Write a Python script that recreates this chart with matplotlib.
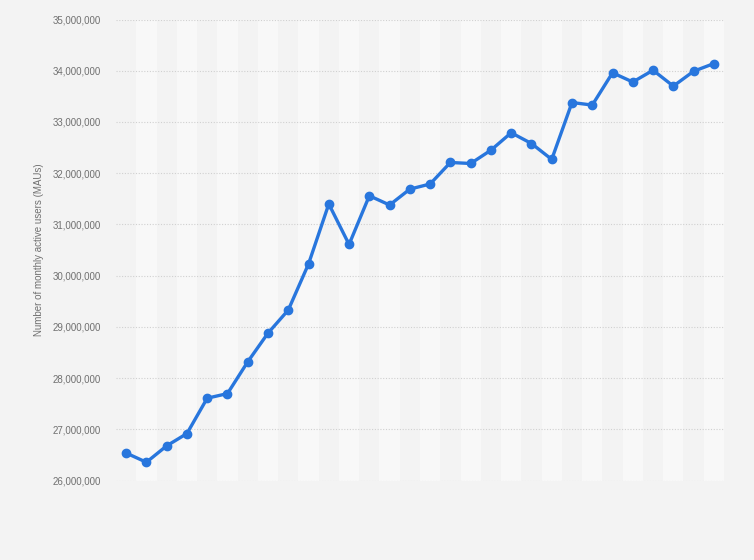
import matplotlib
matplotlib.use("Agg")
import matplotlib.pyplot as plt
from matplotlib.ticker import FuncFormatter

# monthly active users, one point per period (no x labels shown in the source)
periods = list(range(30))
maus = [26.54, 26.36, 26.68, 26.92, 27.61, 27.70, 28.32, 28.88, 29.33, 30.23,
        31.40, 30.61, 31.56, 31.38, 31.69, 31.79, 32.21, 32.19, 32.45, 32.79,
        32.58, 32.27, 33.38, 33.33, 33.96, 33.78, 34.01, 33.70, 33.99, 34.14]
maus = [v * 1e6 for v in maus]
y_ticks = [26e6 + i * 1e6 for i in range(10)]

plt.rcParams['font.family'] = ['Liberation Sans', 'DejaVu Sans']

fig = plt.figure(figsize=(7.54, 5.6), dpi=100)
fig.patch.set_facecolor('#f3f3f3')
ax = fig.add_axes([116 / 754, 1 - 480.7 / 560, 608 / 754, 461.2 / 560])
ax.set_facecolor('#f3f3f3')

# alternating column bands
for i in periods:
    if i % 2 == 1:
        ax.axvspan(i - 0.5, i + 0.5, color='#f8f8f8', zorder=0, lw=0)

ax.set_xlim(-0.5, 29.5)
ax.set_ylim(26e6, 35e6)
ax.set_yticks(y_ticks)
ax.yaxis.set_major_formatter(FuncFormatter(lambda v, p: f"{int(round(v)):,}"))
ax.set_xticks([])
ax.grid(axis='y', color='#d0d0d0', linestyle=(0, (1, 1.5)), linewidth=0.8, zorder=1)
ax.tick_params(axis='y', length=0, pad=11, labelsize=7, labelcolor='#707070')
for s in ax.spines.values():
    s.set_visible(False)

ax.plot(periods, maus, color='#2876dd', linewidth=2.4, marker='o',
        markersize=6, zorder=3, solid_joinstyle='round')

ax.set_ylabel('Number of monthly active users (MAUs)', fontsize=7,
              color='#707070', labelpad=6)

fig.savefig('out.png', dpi=100, facecolor=fig.get_facecolor())
